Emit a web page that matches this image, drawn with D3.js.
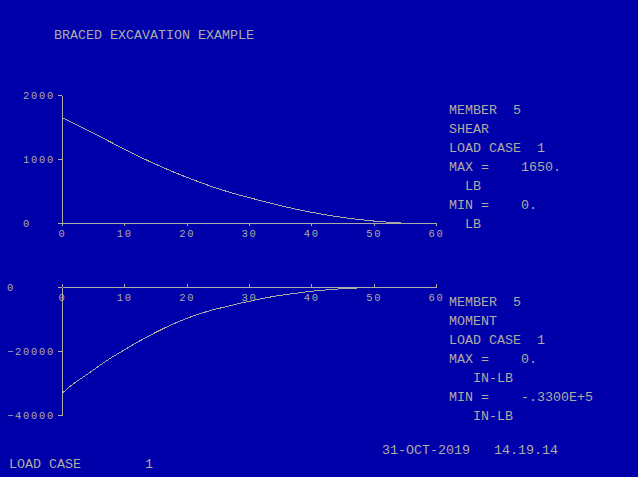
<!DOCTYPE html>
<html>
<head>
<meta charset="utf-8">
<script src="https://cdn.jsdelivr.net/npm/d3@7"></script>
<style>
	html, body { margin: 0; padding: 0; background: #0000aa; }
	svg { display: block; }
	text { font-family: "Liberation Mono", "DejaVu Sans Mono", monospace; fill: #acaca4; white-space: pre; }
	.info text, .head text { font-size: 13.33px; }
	.tick text { font-size: 10.5px; letter-spacing: 1.7px; }
</style>
</head>
<body>
<svg id="chart" width="638" height="477"></svg>
<script>
var shearX = [0, 2, 4, 6, 8, 10, 12, 14, 16, 18, 20, 22, 24, 26, 28, 30, 32, 34, 36, 38, 40, 42, 44, 46, 48, 50, 52, 54, 55.5];
var shearV = [1650, 1555, 1460, 1360, 1258, 1156, 1060, 968, 880, 797, 720, 645, 576, 512, 455, 403, 352, 302, 256, 213, 175, 140, 108, 80, 58, 38, 22, 10, 0];

var momentX = [0, 1, 2, 4, 6, 8, 10, 12, 14, 16, 18, 20, 22, 24, 26, 28, 30, 32, 34, 36, 38, 40, 42, 44, 46, 48, 49.5];
var momentV = [-33000, -31200, -29700, -27100, -24300, -21700, -19400, -17100, -15000, -13000, -11200, -9600, -8200, -7050, -6100, -5150, -4300, -3450, -2750, -2150, -1650, -1150, -800, -500, -250, -100, 0];

var xTicks = [0, 10, 20, 30, 40, 50, 60];
var shearTicks = [0, 1000, 2000];
var momentTicks = [-40000, -20000, 0];

var titleText = "BRACED EXCAVATION EXAMPLE";
var shearInfo = ["MEMBER  5", "SHEAR", "LOAD CASE  1", "MAX =    1650.", "  LB", "MIN =    0.", "  LB"];
var momentInfo = ["MEMBER  5", "MOMENT", "LOAD CASE  1", "MAX =    0.", "   IN-LB", "MIN =    -.3300E+5", "   IN-LB"];
var stampText = "31-OCT-2019   14.19.14";
var footerText = "LOAD CASE        1";

var ink = '#acaca4';
var svg = d3.select('#chart');

drawPanel({
	xs: shearX, ys: shearV,
	yDomain: [0, 2000], yRange: [223, 95], yTicks: shearTicks,
	xTickSize: 3, labelX: 23
});

drawPanel({
	xs: momentX, ys: momentV,
	yDomain: [-40000, 0], yRange: [415, 287], yTicks: momentTicks,
	xTickSize: -3, labelX: 7
});

drawText(svg.append('g').attr('class', 'head'), [titleText], 54, 39, 19);
drawText(svg.append('g').attr('class', 'info'), shearInfo, 449, 114, 19);
drawText(svg.append('g').attr('class', 'info'), momentInfo, 449, 306, 19);
drawText(svg.append('g').attr('class', 'head'), [stampText], 382, 453.5, 19);
drawText(svg.append('g').attr('class', 'head'), [footerText], 9, 467.5, 19);

function drawPanel(p) {
	var x = d3.scaleLinear().domain([0, 60]).range([62, 436]),
		y = d3.scaleLinear().domain(p.yDomain).range(p.yRange),
		y0 = y(0),
		g = svg.append('g');

	var xAxis = g.append('g')
		.attr('transform', 'translate(0,' + y0 + ')')
		.call(d3.axisBottom(x).tickValues(xTicks).tickSizeInner(p.xTickSize).tickSizeOuter(0).tickFormat(d3.format('d')));

	var yAxis = g.append('g')
		.attr('transform', 'translate(' + x(0) + ',0)')
		.call(d3.axisLeft(y).tickValues(p.yTicks).tickSizeInner(4).tickSizeOuter(0).tickFormat(d3.format('d')));

	[xAxis, yAxis].forEach(function(a) {
		a.attr('font-size', null).attr('font-family', null);
		a.selectAll('path, line').attr('stroke', ink).attr('shape-rendering', 'crispEdges');
	});

	xAxis.selectAll('text').attr('y', 14).attr('dy', 0).attr('fill', null);
	yAxis.selectAll('text')
		.attr('text-anchor', 'start')
		.attr('x', p.labelX - x(0))
		.attr('y', 3.5).attr('dy', 0).attr('fill', null);

	var line = d3.line()
		.x(function(d) { return x(d[0]); })
		.y(function(d) { return y(d[1]); });

	g.append('path')
		.datum(d3.zip(p.xs, p.ys))
		.attr('transform', 'translate(0.5,0.5)')
		.attr('fill', 'none')
		.attr('stroke', ink)
		.attr('stroke-width', 1)
		.attr('shape-rendering', 'crispEdges')
		.attr('d', line);
}

function drawText(g, lines, x, y, step) {
	g.selectAll('text')
		.data(lines)
		.enter().append('text')
		.attr('x', x)
		.attr('y', function(d, i) { return y + i * step; })
		.text(function(d) { return d; });
}
</script>
</body>
</html>
